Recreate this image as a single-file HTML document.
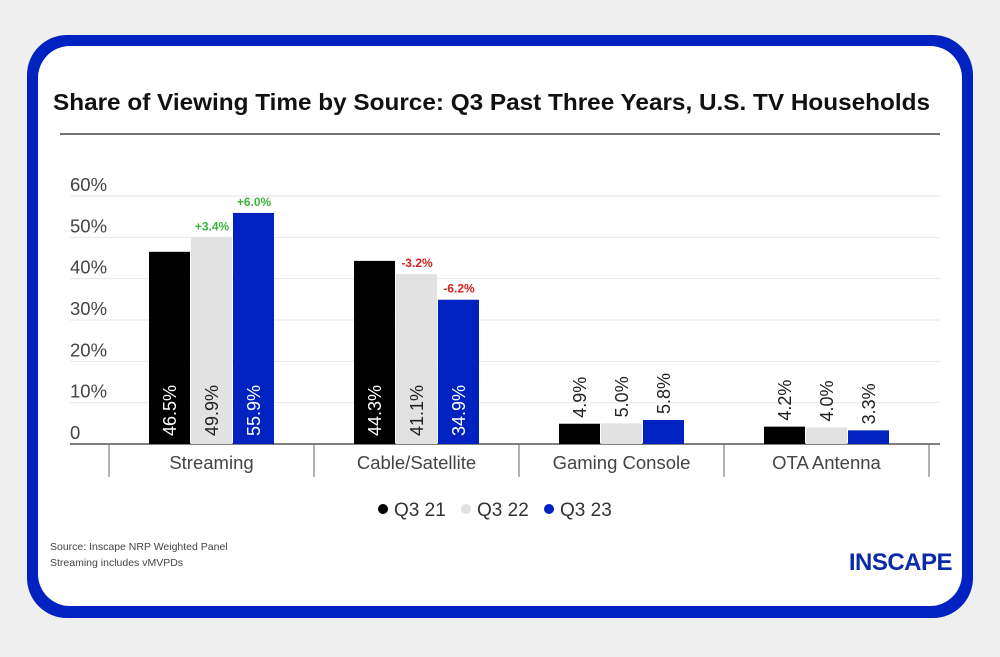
<!DOCTYPE html>
<html><head><meta charset="utf-8"><style>
html,body{margin:0;padding:0;background:#efefef;width:1000px;height:657px;overflow:hidden;font-family:"Liberation Sans",sans-serif}
</style></head><body>
<svg width="1000" height="657" xmlns="http://www.w3.org/2000/svg">
<rect x="27" y="35" width="946" height="583" rx="40" fill="#0022c0"/>
<rect x="38" y="46" width="924" height="560" rx="32" fill="#fff"/>
<text x="53" y="110" textLength="877" lengthAdjust="spacingAndGlyphs" font-size="23" font-weight="bold" fill="#111">Share of Viewing Time by Source: Q3 Past Three Years, U.S. TV Households</text>
<line x1="60" y1="134" x2="940" y2="134" stroke="#222" stroke-width="1.2"/>
<g id="plot"></g>
<g>
<circle cx="383" cy="509" r="5" fill="#000"/>
<text x="394" y="516" font-size="19" fill="#333">Q3 21</text>
<circle cx="466" cy="509" r="5" fill="#e2e2e2"/>
<text x="477" y="516" font-size="19" fill="#333">Q3 22</text>
<circle cx="549" cy="509" r="5" fill="#0022c0"/>
<text x="560" y="516" font-size="19" fill="#333">Q3 23</text>
</g>
<text x="50" y="550" font-size="10.5" fill="#444">Source: Inscape NRP Weighted Panel</text>
<text x="50" y="566" font-size="10.5" fill="#444">Streaming includes vMVPDs</text>
<text x="952" y="570" text-anchor="end" font-size="24" font-weight="bold" fill="#0a2aa8" letter-spacing="-0.5">INSCAPE</text>
</svg>
<script>
const categories=["Streaming","Cable/Satellite","Gaming Console","OTA Antenna"];
const q321=[46.5,44.3,4.9,4.2];
const q322=[49.9,41.1,5.0,4.0];
const q323=[55.9,34.9,5.8,3.3];
const changes22=["+3.4%","-3.2%","",""];
const changes23=["+6.0%","-6.2%","",""];
const yTicks=[0,10,20,30,40,50,60];
const yTickLabels=["0","10%","20%","30%","40%","50%","60%"];
const NS="http://www.w3.org/2000/svg";
const plot=document.getElementById("plot");
const y0=444,pxPer=248/60,gx0=109,gw=205,bw=42;
const y=v=>y0-v*pxPer;
const x=i=>gx0+i*gw;
function mk(t,a){const e=document.createElementNS(NS,t);for(const k in a)e.setAttribute(k,a[k]);plot.appendChild(e);return e;}
yTicks.forEach((t,i)=>{
  if(t>0){const g=mk("line",{x1:70,x2:940,y1:y(t),y2:y(t),stroke:"#e6e6e6","stroke-width":1});
  
  }
  const l=mk("text",{x:70,y:y(t)-5,"font-size":18.5,fill:"#444"});l.textContent=yTickLabels[i];
  
  
});
const ax=mk("line",{x1:70,x2:940,y1:y0,y2:y0,stroke:"#555","stroke-width":1.5});


for(let i=0;i<=categories.length;i++){
  const tk=mk("line",{x1:x(i),x2:x(i),y1:y0,y2:477,stroke:"#666","stroke-width":1});
  
  
}
const series=[[q321,"#000","#fff"],[q322,"#e2e2e2","#222"],[q323,"#0022c0","#fff"]];
categories.forEach((c,i)=>{
  const cx=x(i)+gw/2;
  const cl=mk("text",{x:cx,y:469,"text-anchor":"middle","font-size":18.5,fill:"#444"});cl.textContent=c;
  
  
  series.forEach((s,j)=>{
    const v=s[0][i],bx=cx-bw*1.5+j*bw+0.5;
    const r=mk("rect",{x:bx,y:y(v),width:bw-1,height:y0-y(v),fill:s[1]});
    
    
    const big=v>15;
    const lx=bx+bw/2+6, ly=big?y0-8:y(v)-6;
    const t=mk("text",{x:lx,y:ly,"font-size":18,fill:big?s[2]:"#222",transform:`rotate(-90 ${lx} ${ly})`});
    t.textContent=v.toFixed(1)+"%";
    
    
    const ch=j==1?changes22[i]:j==2?changes23[i]:"";
    if(ch){
      const d=mk("text",{x:bx+bw/2,y:y(v)-7,"text-anchor":"middle","font-size":12,"font-weight":"bold",fill:ch[0]=="+"?"#3cb53c":"#d42020"});
      d.textContent=ch;
      
      
    }
  });
});
</script>
</body></html>
